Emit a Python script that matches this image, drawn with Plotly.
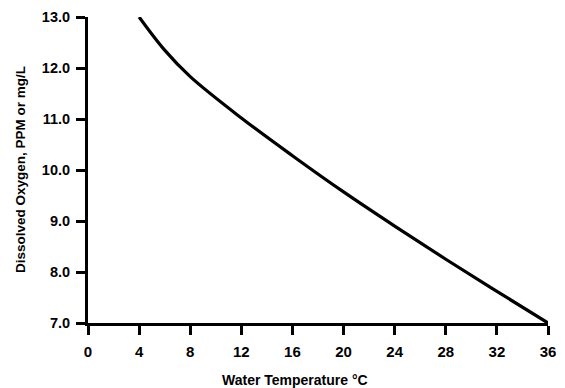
import plotly.graph_objects as go

temperature_c = [4, 6, 8, 12, 16, 20, 24, 28, 32, 36]
dissolved_oxygen = [13.0, 12.35, 11.83, 11.02, 10.28, 9.57, 8.9, 8.25, 7.62, 7.0]

x_ticks = [0, 4, 8, 12, 16, 20, 24, 28, 32, 36]
y_ticks = [7.0, 8.0, 9.0, 10.0, 11.0, 12.0, 13.0]
y_tick_labels = ["7.0", "8.0", "9.0", "10.0", "11.0", "12.0", "13.0"]

font_family = "Liberation Sans, Arial, sans-serif"

fig = go.Figure()
fig.add_trace(go.Scatter(
    x=temperature_c, y=dissolved_oxygen, mode="lines",
    line=dict(color="black", width=3.2, shape="spline", smoothing=1.0),
    cliponaxis=False, showlegend=False, hoverinfo="skip",
))

fig.update_layout(
    width=565, height=388,
    margin=dict(l=80, r=25, t=9, b=73, autoexpand=False),
    paper_bgcolor="white", plot_bgcolor="white",
    font=dict(family=font_family, color="black"),
    xaxis=dict(
        range=[0, 36], tickmode="array", tickvals=x_ticks,
        ticktext=[str(v) for v in x_ticks], automargin=False,
        showgrid=False, zeroline=False, showline=True,
        linecolor="black", linewidth=3,
        ticks="outside", ticklen=9, tickwidth=3, tickcolor="black",
        tickfont=dict(size=15, family=font_family, weight="bold", color="black"),
        ticklabelstandoff=4, ticklabeloverflow="allow",
    ),
    yaxis=dict(
        range=[7, 13], tickmode="array", tickvals=y_ticks,
        ticktext=y_tick_labels, automargin=False,
        showgrid=False, zeroline=False, showline=True,
        linecolor="black", linewidth=3,
        ticks="outside", ticklen=9, tickwidth=3, tickcolor="black",
        tickfont=dict(size=14.5, family=font_family, weight="bold", color="black"),
        ticklabelstandoff=3, ticklabeloverflow="allow",
    ),
    annotations=[
        dict(text="Water Temperature °C", xref="paper", yref="paper",
             x=(295 - 88) / 460, y=-57 / 306, xanchor="center", yanchor="middle",
             showarrow=False,
             font=dict(size=14, family=font_family, weight="bold", color="black")),
        dict(text="Dissolved Oxygen, PPM or mg/L", xref="paper", yref="paper",
             x=(20 - 88) / 460, y=0.5, xanchor="center", yanchor="middle",
             textangle=-90, showarrow=False,
             font=dict(size=13.5, family=font_family, weight="bold", color="black")),
    ],
)

fig.write_html("out.html")
